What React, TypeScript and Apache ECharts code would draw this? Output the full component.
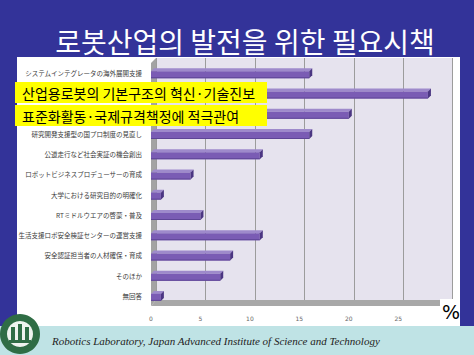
import React, { useEffect, useRef } from "react";
import * as echarts from "echarts";

const categories = [
  "システムインテグレータの海外展開支援",
  "産業用ロボットの基本構造の革新・技術進歩",
  "標準化活動・国際規格策定への積極関与",
  "研究開発支援型の国プロ制度の見直し",
  "公道走行など社会実証の機会創出",
  "ロボットビジネスプロデューサーの育成",
  "大学における研究目的の明確化",
  "RTミドルウエアの啓蒙・普及",
  "生活支援ロボ安全検証センターの運営支援",
  "安全認証担当者の人材確保・育成",
  "そのほか",
  "無回答",
];
const values = [16, 28, 20, 16, 11, 4, 1, 5, 11, 8, 7, 1];
const coveredIndexes = [1, 2];
const xTicks = [0, 5, 10, 15, 20, 25, 30];

const title = "로봇산업의 발전을 위한 필요시책";
const highlights = ["산업용로봇의 기본구조의 혁신·기술진보", "표준화활동·국제규격책정에 적극관여"];
const footer = "Robotics Laboratory, Japan Advanced Institute of Science and Technology";
const unitLabel = "%";

export default function App() {
  const ref = useRef<HTMLDivElement>(null);
  useEffect(() => {
    if (!ref.current) return;
    const chart = echarts.init(ref.current, undefined, { renderer: "svg" });
    const xMax = xTicks[xTicks.length - 1];
    const xInterval = xTicks[1] - xTicks[0];
    const pxW = 296.7;
    const option: any = {
      animation: false,
      backgroundColor: "#333399",
      grid: [
        { left: 156, top: 58, width: pxW, height: 242, show: false },
        { left: 151, top: 63, width: pxW, height: 243, show: false },
      ],
      xAxis: [
        {
          gridIndex: 0, type: "value", min: 0, max: xMax, interval: xInterval,
          axisLine: { show: false }, axisTick: { show: false }, axisLabel: { show: false },
          splitLine: { show: true, lineStyle: { color: "#9c9c9c", width: 1 } },
        },
        {
          gridIndex: 1, type: "value", min: 0, max: xMax, interval: xInterval,
          axisLine: { show: false }, axisTick: { show: false }, splitLine: { show: false },
          axisLabel: { show: true, fontSize: 6, color: "#666", margin: 9, showMaxLabel: false, fontFamily: "DejaVu Sans" },
        },
      ],
      yAxis: [
        { gridIndex: 0, type: "category", data: categories, inverse: true, show: false },
        {
          gridIndex: 1, type: "category", data: categories, inverse: true,
          axisLine: { show: false }, axisTick: { show: false },
          axisLabel: {
            fontSize: 6.5, color: "#3a3a3a", margin: 9, fontFamily: "Noto Sans CJK JP",
            formatter: (val: string, idx: number) => (coveredIndexes.includes(idx) ? "" : val),
          },
        },
      ],
      series: [
        {
          type: "custom",
          xAxisIndex: 1,
          yAxisIndex: 1,
          encode: { x: 0, y: 1 },
          data: values.map((v, i) => [v, i]),
          renderItem: (params: any, api: any) => {
            const v = api.value(0);
            const cat = api.value(1);
            const p0 = api.coord([0, cat]);
            const p1 = api.coord([v, cat]);
            const c = p0[1];
            const x0 = p0[0];
            const x1 = p1[0];
            const d = 3;
            return {
              type: "group",
              children: [
                { type: "polygon", shape: { points: [[x0, c - 2], [x1, c - 2], [x1 + d, c - 2 - d], [x0 + d, c - 2 - d]] }, style: { fill: "#9e8acb" } },
                { type: "rect", shape: { x: x0, y: c - 2, width: x1 - x0, height: 7 }, style: { fill: "#7a5cb4" } },
                { type: "rect", shape: { x: x0, y: c + 4, width: x1 - x0, height: 1 }, style: { fill: "#5e4596" } },
                { type: "polygon", shape: { points: [[x1, c - 2], [x1 + d, c - 2 - d], [x1 + d, c + 5 - d], [x1, c + 5]] }, style: { fill: "#4b3682" } },
              ],
            };
          },
        },
      ],
      graphic: [
        { type: "rect", z: -20, shape: { x: 17, y: 57, width: 443, height: 270 }, style: { fill: "#ffffff" } },
        { type: "rect", z: -20, shape: { x: 0, y: 326, width: 474, height: 29 }, style: { fill: "#bfe3e5" } },
        { type: "rect", z: -15, shape: { x: 156, y: 58, width: pxW, height: 242 }, style: { fill: "#e6e3ee" } },
        { type: "polygon", z: -12, shape: { points: [[151, 63], [156, 58], [156, 300], [151, 306]] }, style: { fill: "#a3a3a3" } },
        { type: "polygon", z: -12, shape: { points: [[151, 306], [156, 300], [156 + pxW, 300], [151 + pxW, 306]] }, style: { fill: "#a8a8a8" } },
        {
          type: "text", z: 100, x: 245, y: 41,
          style: { text: title, fill: "#ffffff", fontSize: 28, fontFamily: "Noto Sans CJK KR", align: "center", verticalAlign: "middle" },
        },
        { type: "rect", z: 100, shape: { x: 15, y: 82, width: 252, height: 21 }, style: { fill: "#ffff00" } },
        { type: "rect", z: 100, shape: { x: 15, y: 105, width: 252, height: 21 }, style: { fill: "#ffff00" } },
        {
          type: "text", z: 101, x: 22, y: 93,
          style: { text: highlights[0], fill: "#000", fontSize: 14, fontFamily: "Noto Sans CJK KR", align: "left", verticalAlign: "middle" },
        },
        {
          type: "text", z: 101, x: 22, y: 116,
          style: { text: highlights[1], fill: "#000", fontSize: 14, fontFamily: "Noto Sans CJK KR", align: "left", verticalAlign: "middle" },
        },
        { type: "rect", z: 100, shape: { x: 440, y: 299, width: 20, height: 27 }, style: { fill: "#ffffff" } },
        {
          type: "text", z: 101, x: 451, y: 312,
          style: { text: unitLabel, fill: "#000", fontSize: 19, fontFamily: "DejaVu Sans", align: "center", verticalAlign: "middle" },
        },
        {
          type: "text", z: 100, x: 52, y: 341,
          style: { text: footer, fill: "#222", fontSize: 11, fontStyle: "italic", fontFamily: "Liberation Serif", align: "left", verticalAlign: "middle" },
        },
        { type: "circle", z: 100, shape: { cx: 20, cy: 334, r: 20 }, style: { fill: "#2f6d45" } },
        { type: "circle", z: 101, shape: { cx: 20, cy: 334, r: 13 }, style: { fill: "#eef3ee" } },
        { type: "rect", z: 102, shape: { x: 11, y: 327, width: 4, height: 14 }, style: { fill: "#2f6d45" } },
        { type: "rect", z: 102, shape: { x: 18, y: 324, width: 4, height: 17 }, style: { fill: "#2f6d45" } },
        { type: "rect", z: 102, shape: { x: 25, y: 327, width: 4, height: 14 }, style: { fill: "#2f6d45" } },
        { type: "rect", z: 102, shape: { x: 9, y: 340, width: 22, height: 3 }, style: { fill: "#2f6d45" } },
      ],
    };
    chart.setOption(option);
    return () => chart.dispose();
  }, []);
  return <div ref={ref} style={{ position: "absolute", left: 0, top: 0, width: 474, height: 355 }} />;
}
